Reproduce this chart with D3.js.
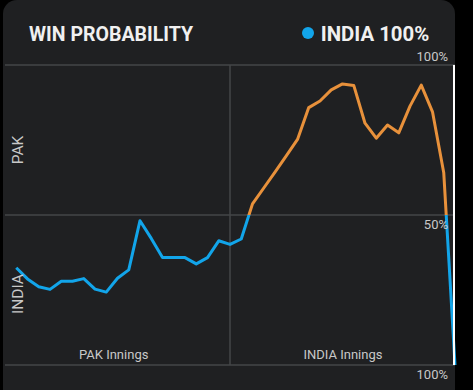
<!DOCTYPE html>
<html><head><meta charset="utf-8">
<script src="https://cdn.jsdelivr.net/npm/d3@7"></script>
<style>html,body{margin:0;padding:0;background:#000;overflow:hidden}</style>
</head><body>
<svg id="c" width="473" height="390"></svg>
<script>
// Data: India win probability (%) by over (1-20 PAK innings, 21-40 INDIA innings)
const overs = d3.range(1, 41);
const indiaProb = [67.6,71.3,73.9,74.8,72.1,72.1,71.2,74.7,75.7,71.1,68.3,51.9,57.8,64.2,64.2,64.2,66.3,64.2,58.6,59.8,
                   58.0,46.3,41.0,35.7,30.3,24.8,14.2,12.0,8.3,6.3,6.8,19.4,24.4,20.0,22.6,13.7,6.7,15.6,35.9,100];
const innings = ["PAK Innings", "INDIA Innings"];
const yTickLabels = ["100%", "50%", "100%"];
const teams = ["PAK", "INDIA"];

const svg = d3.select("#c");
const font = "Roboto, 'Open Sans', sans-serif";
svg.append("rect").attr("x",3).attr("y",0).attr("width",452).attr("height",430).attr("rx",14).attr("fill","#1f2022");

const x = d3.scaleLinear().domain([0,40]).range([5,455]);
const y = d3.scaleLinear().domain([0,100]).range([65,365]);

// grid
const g = svg.append("g");
[0,50,100].forEach(v=>g.append("line").attr("x1",5).attr("x2",455).attr("y1",y(v)).attr("y2",y(v)).attr("stroke","#454648").attr("stroke-width",1.5));
g.append("line").attr("x1",x(20)).attr("x2",x(20)).attr("y1",y(0)).attr("y2",y(100)).attr("stroke","#454648").attr("stroke-width",1.5);

// clips
const defs = svg.append("defs");
defs.append("clipPath").attr("id","top").append("rect").attr("x",0).attr("y",0).attr("width",473).attr("height",y(50));
defs.append("clipPath").attr("id","bot").append("rect").attr("x",0).attr("y",y(50)).attr("width",473).attr("height",390-y(50));

const line = d3.line().x((d,i)=>x(overs[i])).y(d=>y(d));
svg.append("path").datum(indiaProb).attr("d",line).attr("fill","none").attr("stroke","#e8913b").attr("stroke-width",3).attr("stroke-linejoin","round").attr("clip-path","url(#top)");
svg.append("path").datum(indiaProb).attr("d",line).attr("fill","none").attr("stroke","#12a5ea").attr("stroke-width",3).attr("stroke-linejoin","round").attr("clip-path","url(#bot)");

// current marker
svg.append("rect").attr("x",x(40)-2).attr("y",y(0)).attr("width",2).attr("height",y(100)-y(0)).attr("fill","#ffffff");

// y tick labels
const tickY = [61, 229, 379];
yTickLabels.forEach((t,i)=>svg.append("text").attr("x",448).attr("y",tickY[i]).attr("text-anchor","end")
  .attr("font-family",font).attr("font-size",13).attr("fill","#c8c8c8").text(t));

// team labels
[[teams[0],150],[teams[1],294]].forEach(([t,cy])=>svg.append("text").attr("transform",`translate(23,${cy}) rotate(-90)`)
  .attr("text-anchor","middle").attr("font-family",font).attr("font-size",15.5).attr("fill","#c8c8c8").text(t));

// innings labels
[[innings[0],113.7],[innings[1],343]].forEach(([t,cx])=>svg.append("text").attr("x",cx).attr("y",358.5).attr("text-anchor","middle")
  .attr("font-family",font).attr("font-size",13).attr("fill","#c8c8c8").text(t));

// title & legend
svg.append("text").attr("x",29).attr("y",40.7).attr("font-family",font).attr("font-weight",700).attr("font-size",20)
  .attr("fill","#f0f0f0").attr("textLength",164).attr("lengthAdjust","spacingAndGlyphs").text("WIN PROBABILITY");
svg.append("circle").attr("cx",308).attr("cy",33).attr("r",6).attr("fill","#12a5ea");
svg.append("text").attr("x",320.7).attr("y",40.7).attr("font-family",font).attr("font-weight",700).attr("font-size",20)
  .attr("fill","#f0f0f0").attr("textLength",108.6).attr("lengthAdjust","spacingAndGlyphs").text("INDIA " + indiaProb[indiaProb.length-1] + "%");
</script>
</body></html>
